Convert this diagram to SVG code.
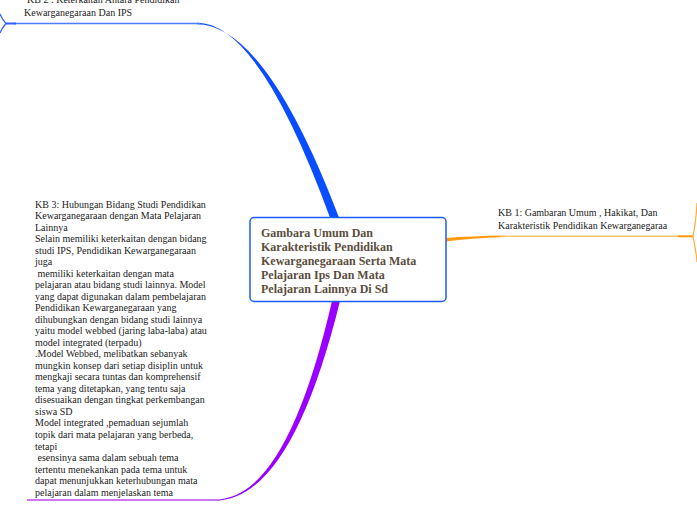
<svg xmlns="http://www.w3.org/2000/svg" width="697" height="520" viewBox="0 0 697 520">
<style>
.lbl{font-family:"Liberation Serif","Times New Roman",serif;font-size:10px;fill:#222}
.ctr{font-family:"Liberation Serif","Times New Roman",serif;font-size:12px;font-weight:bold;fill:#5a4e3e}
</style>
<rect width="697" height="520" fill="#fff"/>
<g id="connectors">
  <!-- blue to KB2 -->
  <path d="M330.5,219 Q259,22.5 197,22.8 L197,24.2 Q266,25 339.5,219 Z" fill="#0a4cff"/>
  <path d="M200,23.5 L14,23.5" stroke="#4d7dff" stroke-width="1.6" fill="none"/>
  <path d="M16,23.5 L6,23.5" stroke="#2a5fff" stroke-width="2" fill="none"/>
  <path d="M6,23.5 Q2,19 0,14 M6,23.5 Q2,28 0,33" stroke="#2a5fff" stroke-width="1.2" fill="none"/>
  <!-- orange to KB1 -->
  <path d="M446,238 Q470,236 505,235.5 L505,237 Q470,238 446,241.5 Z" fill="#ff9a10"/>
  <path d="M500,236.3 L680,236.3" stroke="#ffc469" stroke-width="1.6" fill="none"/>
  <path d="M678,236.3 L693,236.3" stroke="#ff9a10" stroke-width="2" fill="none"/>
  <path d="M693,236.3 Q696,222 697,203 M693,236.3 Q696,250 697,262" stroke="#ffaa30" stroke-width="1.2" fill="none"/>
  <!-- purple to KB3 -->
  <path d="M332,301 Q286,500 215,499.3 L215,500.7 Q291,500 340,301 Z" fill="#9a00ff"/>
  <path d="M220,500 L27,500" stroke="#cc77f0" stroke-width="2" fill="none"/>
</g>
<g id="center">
  <rect x="250" y="217.5" width="196" height="84" rx="4" fill="#fff" stroke="#1a5cff" stroke-width="1.5"/>
  <text class="ctr" x="261" y="236.5">Gambara Umum Dan</text>
  <text class="ctr" x="261" y="250.5">Karakteristik Pendidikan</text>
  <text class="ctr" x="261" y="264.5">Kewarganegaraan Serta Mata</text>
  <text class="ctr" x="261" y="278.5">Pelajaran Ips Dan Mata</text>
  <text class="ctr" x="261" y="292.5">Pelajaran Lainnya Di Sd</text>
</g>
<g id="kb1">
  <text class="lbl" x="498" y="215.5">KB 1: Gambaran Umum , Hakikat, Dan</text>
  <text class="lbl" x="498" y="229">Karakteristik Pendidikan Kewarganegaraa</text>
</g>
<g id="kb2">
  <text class="lbl" x="27" y="3">KB 2 : Keterkaitan Antara Pendidikan</text>
  <text class="lbl" x="24" y="16">Kewarganegaraan Dan IPS</text>
</g>
<g id="kb3" class="lbl">
  <text class="lbl" x="35" y="207.5">KB 3: Hubungan Bidang Studi Pendidikan</text>
  <text class="lbl" x="35" y="219">Kewarganegaraan dengan Mata Pelajaran</text>
  <text class="lbl" x="35" y="230.5">Lainnya</text>
  <text class="lbl" x="35" y="242">Selain memiliki keterkaitan dengan bidang</text>
  <text class="lbl" x="35" y="253.6">studi IPS, Pendidikan Kewarganegaraan</text>
  <text class="lbl" x="35" y="265.1">juga</text>
  <text class="lbl" x="37.5" y="276.6">memiliki keterkaitan dengan mata</text>
  <text class="lbl" x="35" y="288.1">pelajaran atau bidang studi lainnya. Model</text>
  <text class="lbl" x="35" y="299.7">yang dapat digunakan dalam pembelajaran</text>
  <text class="lbl" x="35" y="311.2">Pendidikan Kewarganegaraan yang</text>
  <text class="lbl" x="35" y="322.7">dihubungkan dengan bidang studi lainnya</text>
  <text class="lbl" x="35" y="334.2">yaitu model webbed (jaring laba-laba) atau</text>
  <text class="lbl" x="35" y="345.7">model integrated (terpadu)</text>
  <text class="lbl" x="35" y="357.3">.Model Webbed, melibatkan sebanyak</text>
  <text class="lbl" x="35" y="368.8">mungkin konsep dari setiap disiplin untuk</text>
  <text class="lbl" x="35" y="380.3">mengkaji secara tuntas dan komprehensif</text>
  <text class="lbl" x="35" y="391.8">tema yang ditetapkan, yang tentu saja</text>
  <text class="lbl" x="35" y="403.4">disesuaikan dengan tingkat perkembangan</text>
  <text class="lbl" x="35" y="414.9">siswa SD</text>
  <text class="lbl" x="35" y="426.4">Model integrated ,pemaduan sejumlah</text>
  <text class="lbl" x="35" y="437.9">topik dari mata pelajaran yang berbeda,</text>
  <text class="lbl" x="35" y="449.5">tetapi</text>
  <text class="lbl" x="37.5" y="461">esensinya sama dalam sebuah tema</text>
  <text class="lbl" x="35" y="472.5">tertentu menekankan pada tema untuk</text>
  <text class="lbl" x="35" y="484">dapat menunjukkan keterhubungan mata</text>
  <text class="lbl" x="35" y="495.6">pelajaran dalam menjelaskan tema</text>
</g>
</svg>
